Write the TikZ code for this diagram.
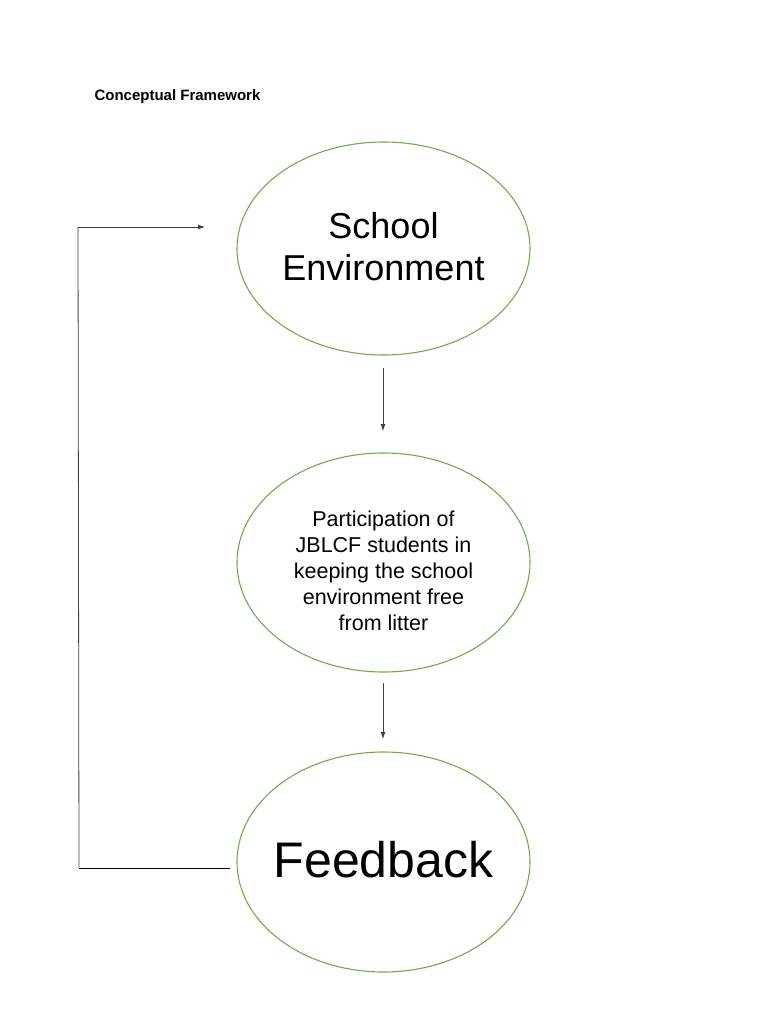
\documentclass[tikz,border=0pt]{standalone}
\usepackage{fontspec}
\setmainfont{Liberation Sans}
\usetikzlibrary{arrows.meta,shapes.geometric}
\definecolor{ellgreen}{HTML}{70AD47}
\begin{document}
\begin{tikzpicture}[x=1pt,y=-1pt,
  oval/.style={ellipse,draw=ellgreen,line width=1.1pt,minimum width=293pt,align=center,inner xsep=-20pt,inner ysep=0pt},
  conn/.style={line width=0.8pt,draw=black!75},
  arr/.style={conn,-{Latex[length=7pt,width=5pt]}}]
\useasboundingbox (0,0) rectangle (768,1024);
\node[anchor=west,font=\fontsize{15}{18}\selectfont\bfseries] (title) at (91,97) {Conceptual Framework};
\node[oval,minimum height=213pt,font=\fontsize{36}{42}\selectfont,
  label={[font=\fontsize{36}{42}\selectfont,align=center,yshift=2pt]center:{School\\Environment}}] (env) at (383.5,248.5) {};
\node[oval,minimum height=219pt,
  label={[font=\fontsize{21.5}{26}\selectfont,align=center,yshift=-8pt]center:{Participation of\\JBLCF students in\\keeping the school\\environment free\\from litter}}] (part) at (383.5,562.5) {};
\node[oval,minimum height=220pt,
  label={[font=\fontsize{50}{56}\selectfont,yshift=2pt]center:{Feedback}}] (fb) at (383.5,862) {};
\coordinate (a1) at (383,368);
\coordinate (a2) at (383,431);
\coordinate (b1) at (383,683);
\coordinate (b2) at (383,739);
\coordinate (c0) at (230,868);
\coordinate (c1) at (79,868);
\coordinate (c2) at (78,227);
\coordinate (c3) at (205,227);
\draw[arr] (a1) -- (a2);
\draw[arr] (b1) -- (b2);
\draw[conn,draw=black] (c0) -- (c1);
\draw[conn] (c1) -- (c2);
\draw[arr] (c2) -- (c3);
\end{tikzpicture}
\end{document}
